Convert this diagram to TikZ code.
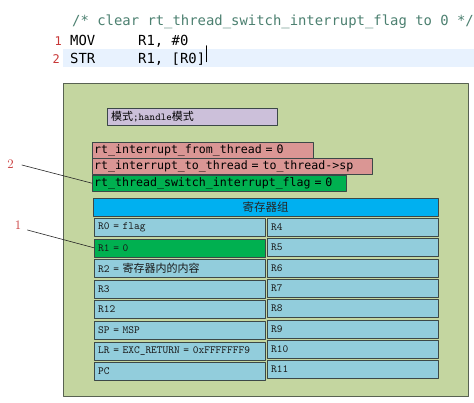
\documentclass[tikz,border=0pt]{standalone}
\usepackage{fontspec}
\newfontfamily\codefont{DejaVu Sans Mono}
\newfontfamily\cjk{Noto Sans CJK SC}

\definecolor{panelgreen}{RGB}{196,214,160}
\definecolor{paneledge}{RGB}{88,98,82}
\definecolor{modelilac}{RGB}{204,192,218}
\definecolor{varpink}{RGB}{218,150,148}
\definecolor{flaggreen}{RGB}{0,176,80}
\definecolor{headblue}{RGB}{0,176,240}
\definecolor{cellblue}{RGB}{146,205,220}
\definecolor{celledge}{RGB}{60,72,72}
\definecolor{commentgreen}{RGB}{76,128,112}
\definecolor{linered}{RGB}{200,55,55}
\definecolor{hlband}{RGB}{232,242,254}

\tikzset{
  code/.style={inner sep=0pt, anchor=base west, font=\fontsize{13.9}{16}\codefont},
  lineno/.style={inner sep=0pt, anchor=base east, text=linered, font=\fontsize{12}{14}\codefont},
  varbox/.style={draw=celledge, fill=varpink, anchor=north west, inner xsep=2pt, inner ysep=0pt,
    align=left, font=\fontsize{11.6}{13}\codefont},
  cell/.style={draw=celledge, fill=cellblue, anchor=north west, inner xsep=4pt, inner ysep=0pt,
    minimum height=18pt, text width=163pt, align=left, text=black!90, font=\fontsize{10.9}{12}\ttfamily},
  callout/.style={inner sep=0pt, text=linered, font=\fontsize{13}{15}\selectfont},
  pointer/.style={draw=black!85, line width=0.6pt}
}

\begin{document}
\begin{tikzpicture}[x=1pt, y=-1pt, line join=round, line cap=round]

    % Page frame (fixes the margins)
    \useasboundingbox (0,0) rectangle (474,402);

    % 1. Code lines on top
    \fill[hlband] (63,49) rectangle (474,67);
    \node[code, text=commentgreen] (cmt) at (72,25) {/* clear rt\_thread\_switch\_interrupt\_flag to 0 */};
    \node[lineno] (ln1) at (62,45) {1};
    \node[code] (mov) at (70,45) {MOV};
    \node[code] (movarg) at (138,45) {R1, \#0};
    \node[lineno] (ln2) at (60,63) {2};
    \node[code] (str) at (70,63) {STR};
    \node[code] (strarg) at (138,63) {R1, [R0]};
    \draw[line width=0.8pt] (strarg.east) ++(1,-13) -- ++(0,16);

    % 2. Big panel
    \node[draw=paneledge, fill=panelgreen, line width=1.2pt, anchor=north west,
          minimum width=405pt, minimum height=313pt, inner sep=0pt] (panel) at (63,83) {};

    % Mode box
    \node[draw=celledge, fill=modelilac, anchor=north west, inner xsep=4pt, inner ysep=0pt,
          minimum width=170pt, minimum height=17pt, text width=162pt, align=left]
          (mode) at (107,108) {{\cjk\fontsize{11}{12}\selectfont 模式}{\fontsize{10.5}{12}\ttfamily ;handle}{\cjk\fontsize{11}{12}\selectfont 模式}};

    % 3. Variables
    \node[varbox, minimum width=221pt, minimum height=16pt, text width=217pt] (from) at (92,142)
          {rt\_interrupt\_from\_thread = 0};
    \node[varbox, minimum width=280pt, minimum height=16pt, text width=276pt] (to) at (92,158)
          {rt\_interrupt\_to\_thread = to\_thread->sp};
    \node[varbox, fill=flaggreen, minimum width=254pt, minimum height=16pt, text width=250pt] (flag) at (92,175)
          {rt\_thread\_switch\_interrupt\_flag = 0};

    % 4. Register group
    \node[draw=celledge, fill=headblue, anchor=north west, minimum width=345pt, minimum height=18pt,
          inner sep=0pt, text=black!85, font=\cjk\fontsize{11.5}{13}\selectfont] (regs) at (93,198) {寄存器组};

    % left column
    \node[cell] (r0)  at (94,218)   {R0 = flag};
    \node[cell, fill=flaggreen] (r1) at (94,238.6) {R1 = 0};
    \node[cell] (r2)  at (94,259.2) {R2 = {\cjk\fontsize{11}{12}\selectfont 寄存器内的内容}};
    \node[cell] (r3)  at (94,279.8) {R3};
    \node[cell] (r12) at (94,300.4) {R12};
    \node[cell] (sp)  at (94,321)   {SP = MSP};
    \node[cell] (lr)  at (94,341.6) {LR = EXC\_RETURN = 0xFFFFFFF9};
    \node[cell] (pc)  at (94,362)   {PC};

    % right column
    \node[cell] (r4)  at (267,218)   {R4};
    \node[cell] (r5)  at (267,238.3) {R5};
    \node[cell] (r6)  at (267,258.6) {R6};
    \node[cell] (r7)  at (267,278.9) {R7};
    \node[cell] (r8)  at (267,299.2) {R8};
    \node[cell] (r9)  at (267,319.5) {R9};
    \node[cell] (r10) at (267,339.8) {R10};
    \node[cell] (r11) at (267,360.1) {R11};

    % 5. Callouts
    \node[callout] (lbl2) at (10.5,164) {2};
    \node[callout] (lbl1) at (18,225) {1};
    \draw[pointer] (lbl2.east) ++(8,1) -- (flag.west);
    \draw[pointer] (lbl1.east) ++(6,5) -- (r1.west);

\end{tikzpicture}
\end{document}
